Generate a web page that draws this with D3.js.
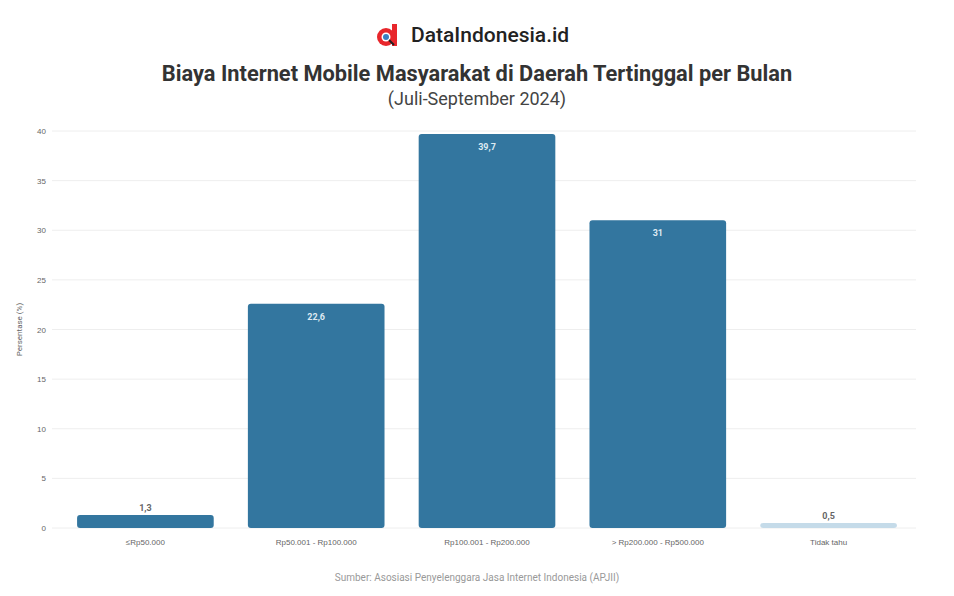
<!DOCTYPE html>
<html>
<head>
<meta charset="utf-8">
<script src="https://cdn.jsdelivr.net/npm/d3@7"></script>
<style>
  body { margin: 0; background: #fff; }
  svg { font-family: Roboto, "Noto Sans", sans-serif; }
</style>
</head>
<body>
<svg id="drawing_region"></svg>
<script>
// data
const categories = ['≤Rp50.000', 'Rp50.001 - Rp100.000', 'Rp100.001 - Rp200.000', '> Rp200.000 - Rp500.000', 'Tidak tahu'];
const values = [1.3, 22.6, 39.7, 31, 0.5];
const valueLabels = ['1,3', '22,6', '39,7', '31', '0,5'];
const yTicks = [0, 5, 10, 15, 20, 25, 30, 35, 40];

const width = 954, height = 596;
const margin = {top: 131, right: 40, bottom: 68, left: 60};

const svg = d3.select('#drawing_region')
    .attr('width', width)
    .attr('height', height);

// header
const logo = svg.append('g').attr('transform', 'translate(376, 24)');
logo.append('circle').attr('cx', 10).attr('cy', 13).attr('r', 9).attr('fill', '#e8262b');
logo.append('rect').attr('x', 16).attr('y', 0).attr('width', 5).attr('height', 22).attr('fill', '#e8262b');
logo.append('circle').attr('cx', 10).attr('cy', 13).attr('r', 4.5).attr('fill', '#fff');
logo.append('circle').attr('cx', 10).attr('cy', 13).attr('r', 3).attr('fill', '#3a7fc1');
logo.append('line').attr('x1', 13).attr('y1', 16).attr('x2', 18).attr('y2', 21)
    .attr('stroke', '#222').attr('stroke-width', 2);

svg.append('text')
    .attr('x', 411).attr('y', 42)
    .attr('font-size', 21).attr('font-weight', 500)
    .attr('fill', '#222')
    .text('DataIndonesia.id');

svg.append('text')
    .attr('x', 477).attr('y', 81)
    .attr('text-anchor', 'middle')
    .attr('font-size', 21.8).attr('font-weight', 700)
    .attr('fill', '#333')
    .text('Biaya Internet Mobile Masyarakat di Daerah Tertinggal per Bulan');

svg.append('text')
    .attr('x', 477).attr('y', 105)
    .attr('text-anchor', 'middle')
    .attr('font-size', 18)
    .attr('fill', '#444')
    .text('(Juli-September 2024)');

const chart = svg.append('g')
    .attr('transform', `translate(${margin.left}, ${margin.top})`);

const inner_width = width - margin.left - margin.right;
const inner_height = height - margin.top - margin.bottom;

const xscale = d3.scaleBand()
    .domain(categories)
    .range([0, inner_width])
    .paddingInner(0.2)
    .paddingOuter(0.1);

const yscale = d3.scaleLinear()
    .domain([0, 40])
    .range([inner_height, 0]);

// gridlines
chart.append('g')
    .selectAll('line')
    .data(yTicks)
    .join('line')
    .attr('x1', -8).attr('x2', inner_width + 2)
    .attr('y1', d => yscale(d)).attr('y2', d => yscale(d))
    .attr('stroke', '#eee');

// y axis
const yaxis_group = chart.append('g')
    .call(d3.axisLeft(yscale).tickValues(yTicks).tickSize(0).tickPadding(14));
yaxis_group.select('.domain').remove();
yaxis_group.selectAll('text').attr('font-size', 8).attr('fill', '#666');

chart.append('text')
    .attr('transform', `translate(-38, ${inner_height / 2}) rotate(-90)`)
    .attr('text-anchor', 'middle')
    .attr('font-size', 8).attr('fill', '#666')
    .text('Persentase (%)');

// x axis
const xaxis_group = chart.append('g')
    .attr('transform', `translate(0, ${inner_height})`)
    .call(d3.axisBottom(xscale).tickSize(0).tickPadding(11));
xaxis_group.select('.domain').remove();
xaxis_group.selectAll('text').attr('font-size', 8).attr('fill', '#666');

// bars
const rows = categories.map((c, i) => ({label: c, value: values[i], text: valueLabels[i]}));

chart.selectAll('rect.bar')
    .data(rows)
    .join('rect')
    .attr('class', 'bar')
    .attr('x', d => xscale(d.label))
    .attr('y', d => yscale(d.value))
    .attr('width', xscale.bandwidth())
    .attr('height', d => inner_height - yscale(d.value))
    .attr('rx', 3)
    .attr('fill', d => d.label === 'Tidak tahu' ? '#c5dbe9' : '#33769f');

chart.selectAll('text.val')
    .data(rows)
    .join('text')
    .attr('class', 'val')
    .attr('x', d => xscale(d.label) + xscale.bandwidth() / 2)
    .attr('y', d => d.value > 5 ? yscale(d.value) + 16 : yscale(d.value) - 4)
    .attr('text-anchor', 'middle')
    .attr('font-size', 9).attr('font-weight', 700)
    .attr('fill', d => d.value > 5 ? '#dde9f2' : '#666')
    .text(d => d.text);

// source
svg.append('text')
    .attr('x', 477).attr('y', 581)
    .attr('text-anchor', 'middle')
    .attr('font-size', 10).attr('fill', '#999')
    .text('Sumber: Asosiasi Penyelenggara Jasa Internet Indonesia (APJII)');
</script>
</body>
</html>
